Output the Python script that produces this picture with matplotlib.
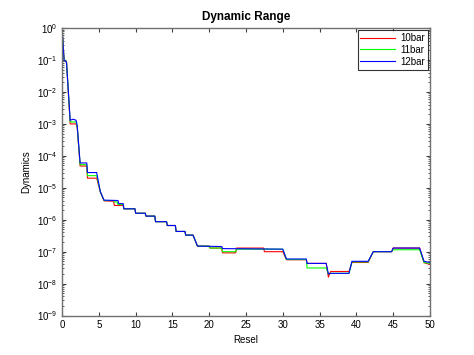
import matplotlib
matplotlib.use('Agg')
import matplotlib.pyplot as plt
from matplotlib.ticker import LogLocator, NullFormatter, FixedLocator

# Breakpoints (Resel, Dynamics)
x_12 = [0, 0.27, 0.6, 1.1, 1.5, 1.9, 2.05, 2.45, 3.35, 3.45, 4.7, 5.2, 5.7,
        7.6, 7.7, 8.3, 8.4, 9.9, 10.0, 11.3, 11.4, 12.6, 12.7, 14.2, 14.3,
        15.4, 15.5, 16.7, 16.8, 17.8, 18.4, 21.7, 21.8, 30.0, 30.5, 33.2,
        33.3, 35.9, 36.2, 36.5, 39.0, 39.4, 41.6, 42.3, 44.8, 45.0, 48.6,
        49.2, 50]
y_12 = [1.0, 0.1, 0.085, 1.3e-3, 1.4e-3, 1.3e-3, 9e-4, 6e-5, 6e-5, 3e-5, 3e-5,
        7.5e-6, 4.1e-6, 4.0e-6, 3.2e-6, 3.2e-6, 2.2e-6, 2.2e-6, 1.6e-6, 1.6e-6,
        1.3e-6, 1.3e-6, 8.7e-7, 8.7e-7, 6.6e-7, 6.6e-7, 4.3e-7, 4.3e-7, 3.3e-7,
        3.3e-7, 1.5e-7, 1.45e-7, 1.25e-7, 1.2e-7, 5.9e-8, 5.9e-8, 4.3e-8,
        4.3e-8, 2.0e-8, 2.1e-8, 2.1e-8, 5.0e-8, 5.0e-8, 1.0e-7, 1.0e-7,
        1.3e-7, 1.3e-7, 5.0e-8, 4.6e-8]

x_10 = [0, 0.27, 0.6, 1.1, 1.9, 2.05, 2.45, 3.35, 3.45, 4.7, 5.2, 5.7,
        7.0, 7.1, 8.3, 8.4, 9.9, 10.0, 11.3, 11.4, 12.6, 12.7, 14.2, 14.3,
        15.4, 15.5, 16.7, 16.8, 17.8, 18.4, 20.0, 20.1, 21.7, 21.8, 23.6,
        23.7, 27.4, 27.5, 30.0, 30.5, 33.2, 33.3, 35.9, 36.2, 36.5, 39.0,
        39.4, 41.6, 42.3, 44.8, 45.0, 48.6, 49.2, 50]
y_10 = [1.0, 0.1, 0.085, 1.0e-3, 1.0e-3, 8e-4, 4.8e-5, 4.8e-5, 2.0e-5, 2.0e-5,
        7.5e-6, 3.9e-6, 3.8e-6, 2.8e-6, 2.8e-6, 2.2e-6, 2.2e-6, 1.6e-6, 1.6e-6,
        1.3e-6, 1.3e-6, 8.7e-7, 8.7e-7, 6.6e-7, 6.6e-7, 4.3e-7, 4.3e-7, 3.3e-7,
        3.3e-7, 1.5e-7, 1.5e-7, 1.3e-7, 1.3e-7, 9.2e-8, 9.2e-8, 1.3e-7,
        1.3e-7, 1.0e-7, 1.0e-7, 5.6e-8, 5.6e-8, 4.3e-8, 4.3e-8, 1.6e-8,
        2.4e-8, 2.4e-8, 4.6e-8, 4.6e-8, 1.0e-7, 1.0e-7, 1.3e-7, 1.3e-7,
        4.5e-8, 4.0e-8]

x_11 = [0, 0.27, 0.6, 1.1, 1.9, 2.05, 2.45, 3.35, 3.45, 4.7, 5.2, 5.7,
        7.0, 7.1, 7.5, 7.6, 8.3, 8.4, 9.9, 10.0, 11.3, 11.4, 12.6, 12.7,
        14.2, 14.3, 15.4, 15.5, 16.7, 16.8, 17.8, 18.4, 20.0, 20.1, 21.7,
        21.8, 23.6, 23.7, 30.0, 30.5, 33.2, 33.3, 35.9, 36.2, 36.5, 39.0,
        39.4, 41.6, 42.3, 44.8, 45.0, 48.6, 49.2, 50]
y_11 = [1.0, 0.1, 0.085, 1.15e-3, 1.15e-3, 8.5e-4, 5.3e-5, 5.3e-5, 2.4e-5,
        2.4e-5, 7.5e-6, 4.0e-6, 4.0e-6, 3.6e-6, 3.6e-6, 3.0e-6, 3.0e-6, 2.2e-6,
        2.2e-6, 1.6e-6, 1.6e-6, 1.3e-6, 1.3e-6, 8.7e-7, 8.7e-7, 6.6e-7,
        6.6e-7, 4.3e-7, 4.3e-7, 3.3e-7, 3.3e-7, 1.5e-7, 1.5e-7, 1.3e-7,
        1.3e-7, 1.0e-7, 1.0e-7, 1.2e-7, 1.2e-7, 5.7e-8, 5.7e-8, 3.1e-8,
        3.1e-8, 2.0e-8, 2.1e-8, 2.1e-8, 4.8e-8, 4.8e-8, 1.0e-7, 1.0e-7,
        1.15e-7, 1.15e-7, 4.6e-8, 4.3e-8]

labels = ['10bar', '11bar', '12bar']
x_ticks = [0, 5, 10, 15, 20, 25, 30, 35, 40, 45, 50]

plt.rcParams['font.family'] = ['Liberation Sans', 'DejaVu Sans']
plt.rcParams['mathtext.fontset'] = 'custom'
plt.rcParams['mathtext.rm'] = 'Liberation Sans'

fig = plt.figure(figsize=(4.74, 3.55), dpi=100)
ax = fig.add_axes([0.131, 0.111, 0.776, 0.810])

ax.semilogy(x_10, y_10, color='#ff0000', lw=0.8, label=labels[0])
ax.semilogy(x_11, y_11, color='#00ff00', lw=0.8, label=labels[1])
ax.semilogy(x_12, y_12, color='#0000ff', lw=0.8, label=labels[2])

ax.set_xlim(0, 50)
ax.set_ylim(1e-9, 1e0)
ax.xaxis.set_major_locator(FixedLocator(x_ticks))
ax.yaxis.set_major_locator(LogLocator(base=10, numticks=12))
ax.yaxis.set_minor_locator(LogLocator(base=10, subs=range(2, 10), numticks=12))
ax.yaxis.set_minor_formatter(NullFormatter())

ax.tick_params(which='both', direction='in', top=True, right=True,
               labelsize=7, color='#404040')
ax.tick_params(which='major', length=3)
ax.tick_params(which='minor', length=1.5)
for s in ax.spines.values():
    s.set_color('#707070')
    s.set_linewidth(1.0)

ax.set_title('Dynamic Range', fontsize=8.5, fontweight='bold', pad=6)
ax.set_xlabel('Resel', fontsize=7, labelpad=3)
ax.set_ylabel('Dynamics', fontsize=7, labelpad=4)

leg = ax.legend(loc='upper right', fontsize=7, frameon=True, fancybox=False,
                handlelength=3.6, borderpad=0.3, labelspacing=0.2,
                borderaxespad=0.2, handletextpad=0.5)
leg.get_frame().set_edgecolor('black')
leg.get_frame().set_linewidth(0.8)

fig.savefig('out.png', dpi=100, facecolor='white')
